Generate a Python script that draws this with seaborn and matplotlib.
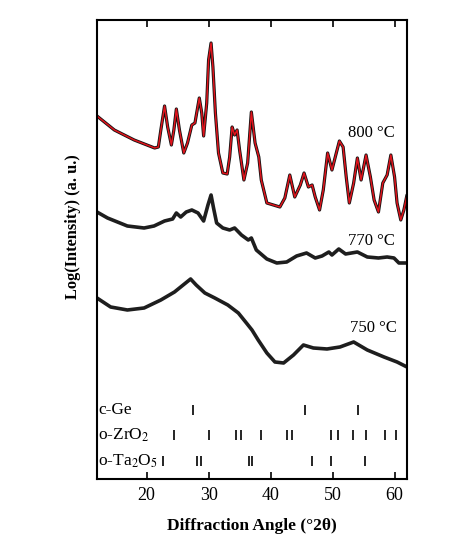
import numpy as np
import pandas as pd
import matplotlib
matplotlib.use("Agg")
import matplotlib.pyplot as plt
import seaborn as sns

sns.set_style("ticks")
plt.rcParams['font.family'] = ['Liberation Serif', 'DejaVu Serif']
plt.rcParams['mathtext.fontset'] = 'stix'
plt.rcParams['text.color'] = 'black'
plt.rcParams['axes.labelcolor'] = 'black'
plt.rcParams['axes.edgecolor'] = 'black'
plt.rcParams['xtick.color'] = 'black'

# 800 °C pattern (angle, log intensity in a.u.)
angle_800 = [12.0, 14.8, 18.0, 21.3, 21.9, 22.3, 22.9, 23.4, 24.0, 24.4,
             24.8, 25.3, 26.0, 26.6, 27.3, 27.8, 28.5, 28.9, 29.2, 29.7,
             30.0, 30.4, 30.7, 31.1, 31.6, 32.3, 33.0, 33.4, 33.8, 34.2,
             34.6, 35.0, 35.7, 36.3, 36.9, 37.5, 38.1, 38.5, 39.4, 41.5,
             42.3, 43.1, 43.9, 44.8, 45.4, 46.1, 46.7, 47.2, 47.9, 48.5,
             49.2, 49.9, 50.6, 51.1, 51.7, 52.2, 52.7, 53.4, 54.0, 54.6,
             55.4, 56.1, 56.7, 57.4, 58.1, 58.8, 59.4, 60.0, 60.4, 61.0,
             61.5, 62.0]
int_800 = [363, 349, 339, 331, 332, 349, 373, 352, 334, 349,
           370, 349, 326, 336, 354, 356, 381, 366, 343, 376,
           419, 436, 412, 366, 326, 306, 305, 322, 352, 344,
           349, 329, 299, 316, 367, 336, 322, 299, 276, 272,
           281, 304, 282, 294, 306, 292, 294, 282, 269, 289,
           326, 309, 326, 338, 332, 302, 276, 296, 321, 299,
           324, 302, 279, 267, 296, 304, 324, 302, 276, 259,
           269, 284]

# 770 °C pattern
angle_770 = [12.0, 13.7, 16.9, 19.6, 21.2, 22.9, 24.2, 24.8, 25.5, 26.4,
             27.3, 28.3, 29.2, 29.9, 30.4, 30.8, 31.3, 32.3, 33.4, 34.2,
             35.3, 36.4, 36.9, 37.7, 39.4, 41.0, 42.6, 44.2, 45.8, 47.2,
             48.3, 49.4, 49.9, 51.0, 52.1, 54.0, 55.6, 57.4, 58.8, 59.9,
             60.7, 61.8]
int_770 = [267, 261, 253, 251, 253, 258, 260, 266, 262, 267,
           269, 266, 258, 274, 284, 271, 256, 251, 249, 251,
           244, 239, 241, 229, 220, 216, 217, 223, 226, 221,
           223, 227, 224, 230, 225, 227, 222, 221, 222, 221,
           216, 216]

# 750 °C pattern
angle_750 = [12.0, 14.2, 16.9, 19.6, 22.3, 24.5, 26.1, 27.1, 28.0, 29.4,
             31.0, 33.1, 34.8, 36.1, 37.0, 38.0, 39.4, 40.7, 42.1, 43.7,
             45.3, 46.9, 49.1, 51.2, 53.4, 55.6, 58.3, 60.4, 62.0]
int_750 = [181, 172, 169, 171, 179, 187, 195, 200, 194, 186,
           181, 174, 166, 156, 149, 139, 126, 117, 116, 124,
           134, 131, 130, 132, 137, 129, 122, 117, 112]

# reference peak positions
ge_peaks = [27.5, 45.6, 54.1]
zro2_peaks = [24.4, 30.1, 34.5, 35.3, 38.4, 42.6, 43.4, 49.7, 50.9, 53.3,
              55.4, 58.5, 60.2]
ta2o5_peaks = [22.7, 28.2, 28.8, 36.6, 37.0, 46.7, 49.7, 55.3]
phase_names = ['c-Ge', 'o-ZrO$_2$', 'o-Ta$_2$O$_5$']
phase_rows = [69, 44, 18]

temp_labels = ['800 °C', '770 °C', '750 °C']
label_pos = [(60.0, 346), (60.0, 238), (60.3, 151)]

fig = plt.figure(figsize=(4.74, 5.51), dpi=100)
ax = fig.add_axes([0.2046, 0.1307, 0.654, 0.833])

kw = dict(solid_joinstyle='round', solid_capstyle='round')
sns.lineplot(x=angle_750, y=int_750, ax=ax, color='#1e1e1e', lw=2.6, **kw)
sns.lineplot(x=angle_770, y=int_770, ax=ax, color='#1e1e1e', lw=2.6, **kw)
sns.lineplot(x=angle_800, y=int_800, ax=ax, color='#111111', lw=2.3, **kw)
sns.lineplot(x=angle_800, y=int_800, ax=ax, color='#e0141c', lw=1.1, **kw)

for peaks, row in zip([ge_peaks, zro2_peaks, ta2o5_peaks], phase_rows):
    ax.vlines(peaks, row - 5, row + 5, color='black', lw=1.2)

for name, row in zip(phase_names, phase_rows):
    ax.text(12.2, row, name, fontsize=12.5, ha='left', va='center')

for lab, (x, y) in zip(temp_labels, label_pos):
    ax.text(x, y, lab, fontsize=12, ha='right', va='center')

ax.set_xlim(12, 62)
ax.set_ylim(0, 459)
ax.set_xticks([20, 30, 40, 50, 60])
ax.set_yticks([])
ax.tick_params(axis='x', direction='in', top=True, length=5, width=1.2,
               labelsize=13, pad=6)
for sp in ax.spines.values():
    sp.set_visible(True)
    sp.set_linewidth(1.5)

ax.set_xlabel('Diffraction Angle (°2θ)', fontsize=12.5, fontweight='bold',
              labelpad=10)
ax.set_ylabel('Log(Intensity) (a. u.)', fontsize=11.8, fontweight='bold')
ax.yaxis.label.set_va('center')
ax.yaxis.set_label_coords(-0.077, 0.55)

fig.savefig('out.png', dpi=100)
